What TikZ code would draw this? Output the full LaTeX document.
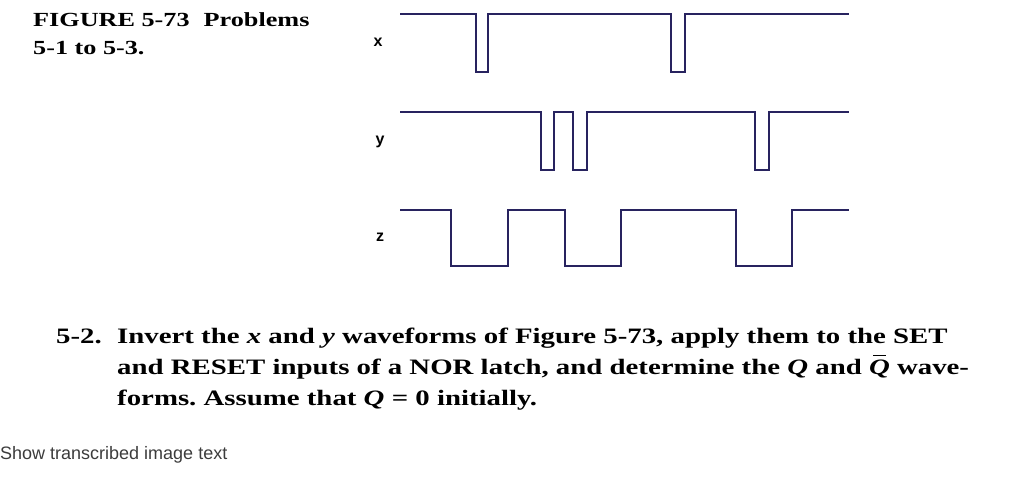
\documentclass[tikz,border=0pt]{standalone}
\usepackage{fontspec}
\setmainfont{Liberation Serif}
\setsansfont{Liberation Sans}
\newfontfamily\widefont[FakeStretch=1.31]{Liberation Serif}
\frenchspacing
\newcommand{\myqbar}{{\setbox0\hbox{\textit{Q}}\rlap{\hbox to \wd0{\hss\raisebox{18pt}{\rule{0.6\wd0}{1.2pt}}\hss}}\box0}}
\begin{document}
\begin{tikzpicture}[x=1pt,y=-1pt,
  wave/.style={draw={rgb,255:red,40;green,35;blue,95},line width=2.6pt},
  lbl/.style={anchor=center,font=\sffamily\bfseries\fontsize{16}{16}\selectfont},
  txt/.style={anchor=base west,inner sep=0,font=\widefont\bfseries\fontsize{22}{22}\selectfont}]
\useasboundingbox (0,0) rectangle (1024,486);
\node[lbl] (lx) at (378,42) {x};
\node[lbl] (ly) at (380,142) {y};
\node[lbl] (lz) at (380,237) {z};
\draw[wave] (400,14) -- (476,14) -- (476,72) -- (488,72) -- (488,14) -- (671,14) -- (671,72) -- (685,72) -- (685,14) -- (849,14);
\draw[wave] (400,112) -- (541,112) -- (541,170) -- (554,170) -- (554,112) -- (573,112) -- (573,170) -- (587,170) -- (587,112) -- (755,112) -- (755,170) -- (769,170) -- (769,112) -- (849,112);
\draw[wave] (400,210) -- (451,210) -- (451,266) -- (508,266) -- (508,210) -- (565,210) -- (565,266) -- (621,266) -- (621,210) -- (736,210) -- (736,266) -- (792,266) -- (792,210) -- (849,210);
\node[txt,font=\widefont\bfseries\fontsize{20}{20}\selectfont] (t1) at (33,27) {FIGURE 5-73\hspace{14pt}Problems};
\node[txt,font=\widefont\bfseries\fontsize{20}{20}\selectfont] (t2) at (33,55) {5-1 to 5-3.};
\node[txt] (p0) at (56,343) {5-2.};
\node[txt] (p1) at (117,343) {Invert the \textit{x} and \textit{y} waveforms of Figure 5-73, apply them to the SET};
\node[txt] (p2) at (117,374) {and RESET inputs of a NOR latch, and determine the \textit{Q} and \myqbar{} wave-};
\node[txt] (p3) at (117,405) {forms. Assume that \textit{Q} = 0 initially.};
\node[anchor=base west,inner sep=0,font=\sffamily\fontsize{18}{18}\selectfont,text={rgb,255:red,60;green,60;blue,60}] (s) at (0,459) {Show transcribed image text};
\end{tikzpicture}
\end{document}
